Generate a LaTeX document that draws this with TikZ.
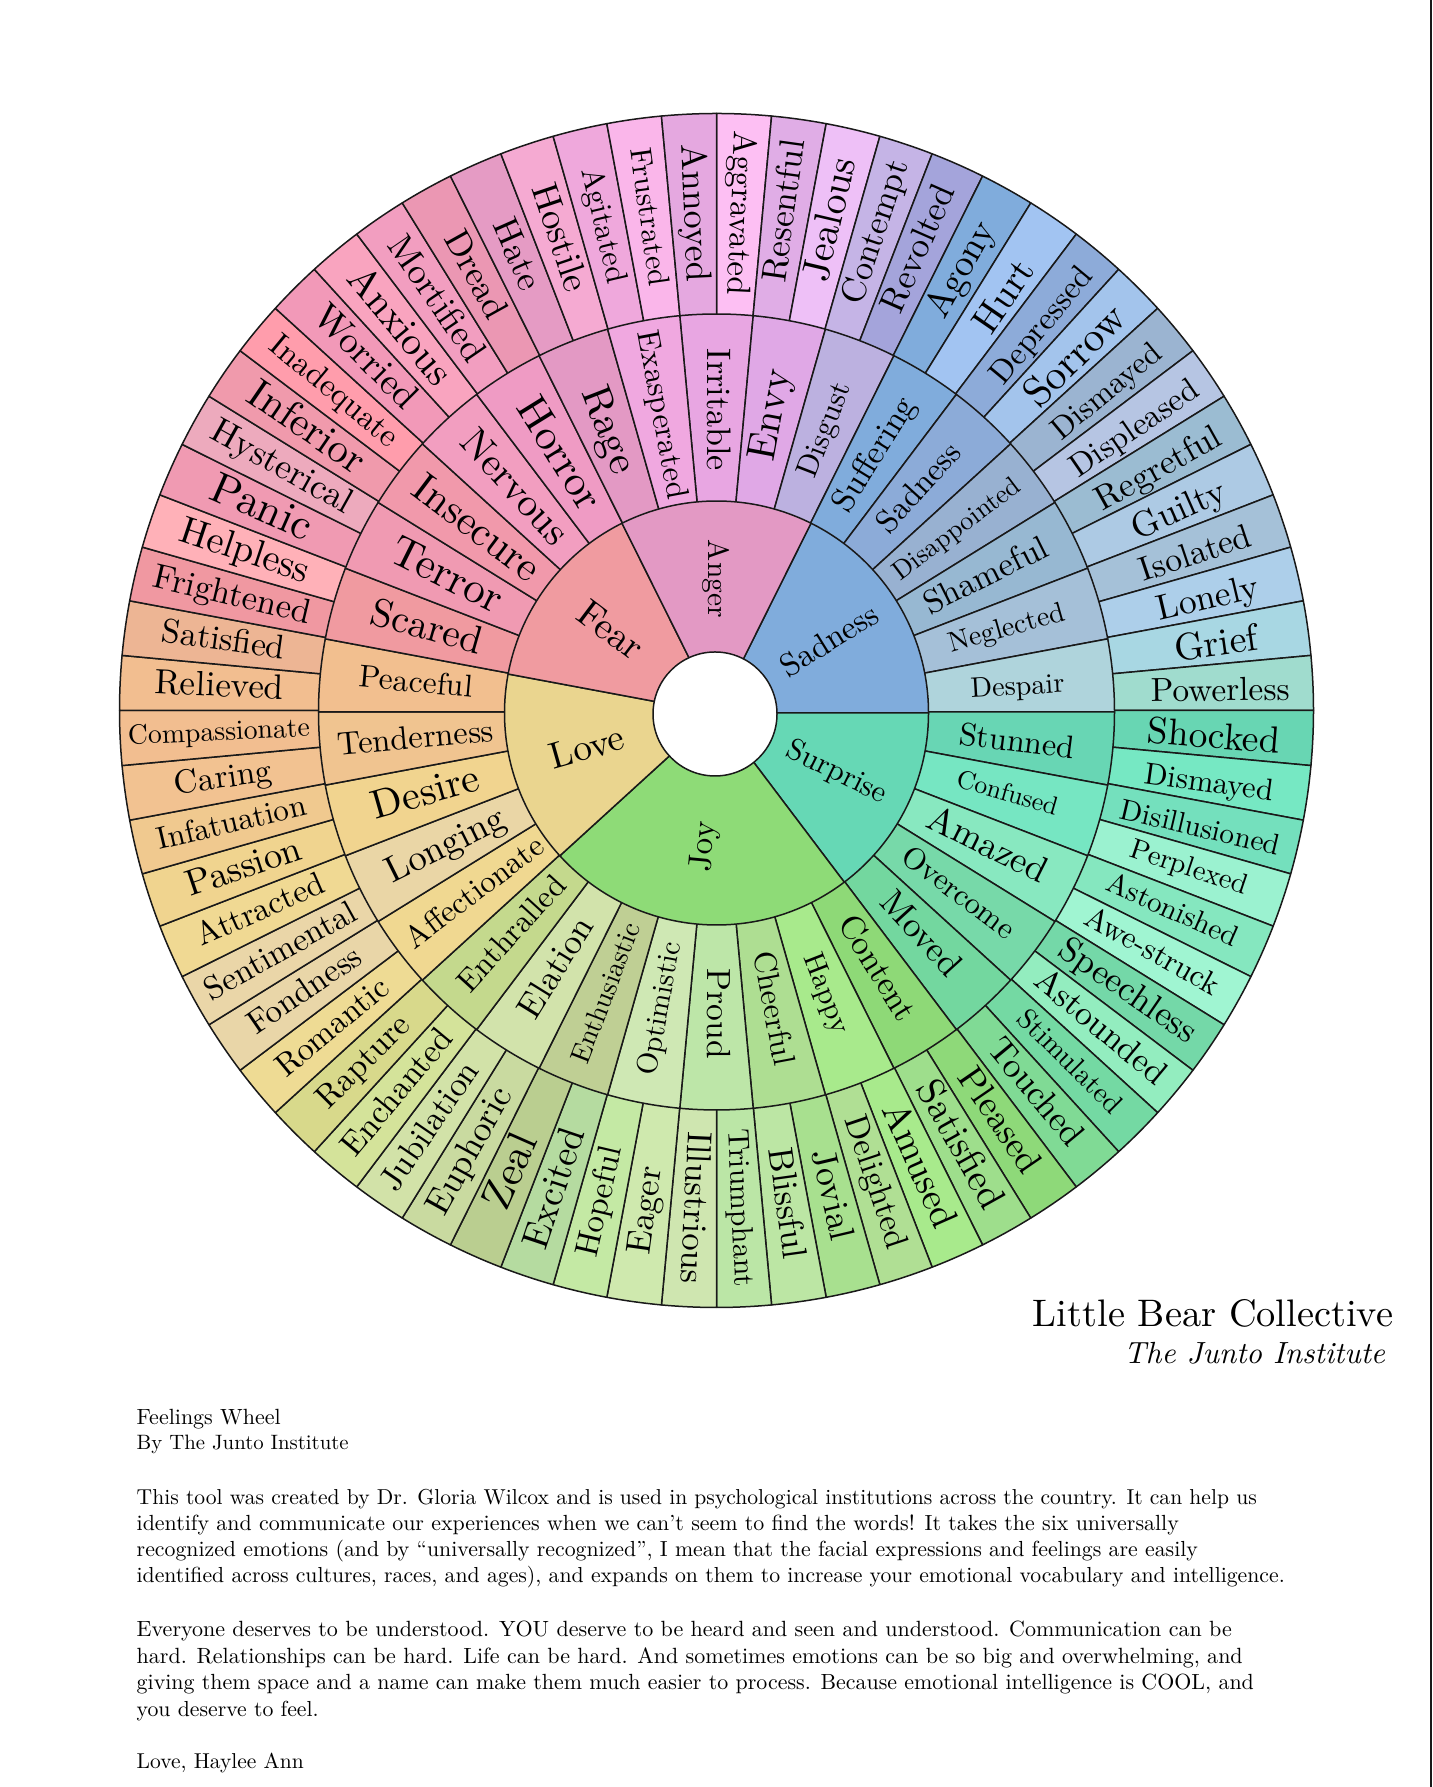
\documentclass[tikz,border=0pt]{standalone}
\usepackage{graphicx}
\usepackage{xcolor}
\newcommand{\fitto}[2]{\resizebox{#1pt}{!}{#2\vphantom{Ay}}}
\tikzset{
    segline/.style={draw=black!90,line width=1.5pt,line join=round},
    seglabel/.style={inner sep=0pt,text=black},
    noteline/.style={inner sep=0pt,anchor=west,text=black}
}

\begin{document}
\begin{tikzpicture}[x=1pt,y=1pt]
    \useasboundingbox (0,0) rectangle (1432,1787);
    \coordinate (outerc) at (716.5,1076.5);
    \coordinate (midc) at (716.5,1075);
    \coordinate (corec) at (716.5,1074);
    \coordinate (holec) at (715,1073);
    \draw[line width=1.4pt,black!90] (1431,1787) -- (1431,0);

    % outer ring
    \foreach \lab/\lwd/\col [count=\k from 0] in {
        Aggravated/165/FDBFF3, Resentful/144/E0ADE6, Jealous/126/EEC0F7, Contempt/150/C5B4E6,
        Revolted/136/A4A4DB, Agony/105/80ACDC, Hurt/80/A2C4F2, Depressed/142/8DABD9,
        Sorrow/126/A3C4EC, Dismayed/133/9BB4D1, Displeased/149/B6C5E3, Regretful/139/9BBCD2,
        Guilty/100/ADCAE4, Isolated/116/A5C1D8, Lonely/104/ADCFEA, Grief/84/A8D7E3,
        Powerless/139/A0DCCE, Shocked/133/68D6B3, Dismayed/130/76E8C3, Disillusioned/163/74E0BD,
        Perplexed/122/9BF2D0, Astonished/141/85E7BF, Awe-struck/149/A0F5D2, Speechless/159/74D8A8,
        Astounded/161/93EDBF, Stimulated/135/74D9A3, Touched/129/80DA95, Pleased/120/8ED979,
        Satisfied/141/9EDE8C, Amused/133/A8EA8C, Delighted/139/B0DF94, Jovial/92/A8E08F,
        Blissful/112/BCE6A4, Triumphant/157/BBE6A6, Illustrious/152/CFE6B0, Eager/88/CFE9AE,
        Hopeful/113/C4E9A4, Excited/125/B5DBA0, Zeal/78/BACE90, Euphoric/141/C9DAA0,
        Jubilation/149/D2E2A8, Enchanted/155/D4E39A, Rapture/118/D8D98B, Romantic/137/EEDB94,
        Fondness/131/E9D6A8, Sentimental/169/EAD6A8, Attracted/137/F0D993, Passion/120/F0D48F,
        Infatuation/153/F0C98F, Caring/98/F2C291, Compassionate/182/F2BE90, Relieved/129/F2BE90,
        Satisfied/124/EDB594, Frightened/161/F098A1, Helpless/135/FFB1B8, Panic/106/F09AB2,
        Hysterical/157/EDAABD, Inferior/133/F09AAC, Inadequate/157/FF9DAC, Worried/131/F299B8,
        Anxious/141/F9A4BF, Mortified/145/F29EC0, Dread/95/EB97B3, Hate/74/E59BC4,
        Hostile/112/F5AAD2, Agitated/118/EFA8DC, Frustrated/139/FAB6EA, Annoyed/138/E5A8E0} {
        \definecolor{seg}{HTML}{\col}
        \pgfmathsetmacro{\aone}{90-\k*5.29412}
        \pgfmathsetmacro{\atwo}{90-(\k+1)*5.29412}
        \pgfmathsetmacro{\amid}{90-(\k+0.5)*5.29412}
        \pgfmathsetmacro{\rot}{(\amid>85 || \amid<-93) ? \amid+180 : \amid}
        \pgfmathsetmacro{\rot}{abs(\amid)<6 ? \rot-2 : \rot}
        \pgfmathsetmacro{\alab}{(\amid>-15 && \amid<60) ? \amid-0.6 : \amid}
        \pgfmathsetmacro{\rlab}{498+((\amid>0 && \amid<85) ? 6 : 0)+((\amid<-93 && \amid>-125) ? 7 : 0)}
        \draw[segline,fill=seg] (outerc) -- +(\aone:597) arc[start angle=\aone,end angle=\atwo,radius=597] -- cycle;
        \node[seglabel,rotate=\rot] (outer\k) at ([shift={(\alab:\rlab)}]outerc) {\fitto{\lwd}{\lab}};
    }

    % middle ring
    \foreach \lab/\lwd/\col [count=\k from 0] in {
        Irritable/122/E8A6E2, Envy/92/E0A8E6, Disgust/100/BCB1E0, Suffering/129/80ACDC,
        Sadness/110/8CABD8, Disappointed/153/98B1D1, Shameful/135/97B8D2, Neglected/120/A5C0D8,
        Despair/94/AFD4DC, Stunned/116/68D6B4, Confused/104/76E6C2, Amazed/129/88E8C0,
        Overcome/133/77D9A9, Moved/102/73D79F, Content/118/8ED977, Happy/84/A8EA8C,
        Cheerful/116/AEDE92, Proud/90/BDE6A8, Optimistic/135/CFE8B4, Enthusiastic/149/BFCF94,
        Elation/112/D2E3AB, Enthralled/145/C4D98D, Affectionate/165/F0D891, Longing/129/EAD6A6,
        Desire/110/F1D48F, Tenderness/157/F0C490, Peaceful/114/F2BF8F, Scared/114/F09AA0,
        Terror/120/F09AB2, Insecure/149/F199AB, Nervous/141/F29EC0, Horror/125/EF9BC4,
        Rage/90/E399C4, Exasperated/171/F0A8E0} {
        \definecolor{seg}{HTML}{\col}
        \pgfmathsetmacro{\amid}{90-\k*10.58824}
        \pgfmathsetmacro{\aone}{\amid+5.29412}
        \pgfmathsetmacro{\atwo}{\amid-5.29412}
        \pgfmathsetmacro{\rot}{(\amid>85 || \amid<-93) ? \amid+180 : \amid}
        \pgfmathsetmacro{\rot}{abs(\amid)<6 ? \rot-2 : \rot}
        \pgfmathsetmacro{\alab}{abs(\amid)<15 ? \amid-0.7 : \amid}
        \draw[segline,fill=seg] (midc) -- +(\aone:398) arc[start angle=\aone,end angle=\atwo,radius=398] -- cycle;
        \node[seglabel,rotate=\rot] (mid\k) at ([shift={(\alab:302)}]midc) {\fitto{\lwd}{\lab}};
    }

    % six core emotions
    \foreach \lab/\lwd/\col/\aone/\atwo [count=\k from 0] in {
        Sadness/110/80ACDC/63.53/0, Surprise/108/66D8B5/0/-52.94, Joy/50/8EDB77/-52.94/-137.65,
        Love/76/EAD58F/-137.65/-190.59, Fear/73/F09BA0/-190.59/-243.53, Anger/78/E399C4/-243.53/-296.47} {
        \definecolor{seg}{HTML}{\col}
        \pgfmathsetmacro{\amid}{(\aone+\atwo)/2}
        \pgfmathsetmacro{\rot}{(\amid>85 || \amid<-93) ? \amid+180 : \amid}
        \draw[segline,fill=seg] (corec) -- +(\aone:212) arc[start angle=\aone,end angle=\atwo,radius=212] -- cycle;
        \node[seglabel,rotate=\rot] (core\k) at ([shift={(\amid:134)}]corec) {\fitto{\lwd}{\lab}};
    }
    \draw[segline,fill=white] (holec) circle (62);

    \node[seglabel] (brand) at (1213,470) {\fitto{360}{Little Bear Collective}};
    \node[seglabel] (junto) at (1254.5,431) {\fitto{261}{\itshape The Junto Institute}};

    % note under the wheel
    \foreach \txt/\lwd/\yy [count=\k] in {
        {Feelings Wheel}/144/368.5,
        {By The Junto Institute}/212/342.5,
        {This tool was created by Dr. Gloria Wilcox and is used in psychological institutions across the country.  It can help us}/1120/288.5,
        {identify and communicate our experiences when we can't seem to find the words!  It takes the six universally}/1042/262.5,
        {recognized emotions (and by ``universally recognized'', I mean that the facial expressions and feelings are easily}/1061/235.5,
        {identified across cultures, races, and ages), and expands on them to increase your emotional vocabulary and intelligence.}/1148/209.5,
        {Everyone deserves to be understood.  YOU deserve to be heard and seen and understood.  Communication can be}/1095/156.5,
        {hard.  Relationships can be hard.  Life can be hard.  And sometimes emotions can be so big and overwhelming, and}/1106/129.5,
        {giving them space and a name can make them much easier to process.  Because emotional intelligence is COOL, and}/1117/103.5,
        {you deserve to feel.}/182/76.5,
        {Love, Haylee Ann}/167/23.5} {
        \node[noteline] (note\k) at (136.5,\yy) {\fitto{\lwd}{\txt}};
    }
\end{tikzpicture}
\end{document}
